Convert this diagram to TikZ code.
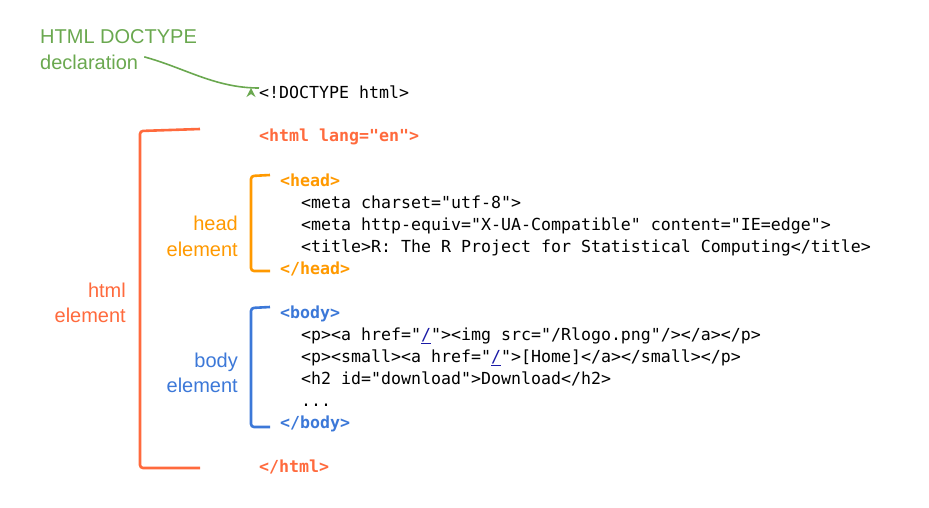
\documentclass[tikz,border=0pt]{standalone}
\usepackage{fontspec}
\setmainfont{Liberation Sans}
\setmonofont{DejaVu Sans Mono}
\usetikzlibrary{arrows.meta}
\definecolor{cred}{HTML}{FF6A3D}
\definecolor{corg}{HTML}{FF9900}
\definecolor{cblue}{HTML}{3C78D8}
\definecolor{cgreen}{HTML}{6AA84F}
\definecolor{clink}{HTML}{1A1AA6}
\newcommand{\lnk}{\textcolor{clink}{\underline{/}}}
\tikzset{
 code/.style={anchor=base west,inner sep=0pt,font=\fontsize{16.6}{18}\ttfamily},
 lab/.style={anchor=base east,inner sep=0pt,font=\fontsize{20}{22}\selectfont,align=right},
 brk/.style={line width=2.6pt,rounded corners=3pt},
}
\begin{document}
\begin{tikzpicture}[x=1pt,y=-1pt]
\useasboundingbox (0,0) rectangle (929,507);
\node[code] (dt) at (259,98) {<!DOCTYPE html>};
\node[code,text=cred] (ho) at (259,141) {\bfseries <html lang="en">};
\node[code,text=corg] (hd) at (280,186) {\bfseries <head>};
\node[code] (m1) at (301,208) {<meta charset="utf-8">};
\node[code] (m2) at (301,230) {<meta http-equiv="X-UA-Compatible" content="IE=edge">};
\node[code] (ti) at (301,252) {<title>R: The R Project for Statistical Computing</title>};
\node[code,text=corg] (hc) at (280,274) {\bfseries </head>};
\node[code,text=cblue] (bd) at (280,318) {\bfseries <body>};
\node[code] (p1) at (301,340) {<p><a href="\lnk"><img src="/Rlogo.png"/></a></p>};
\node[code] (p2) at (301,362) {<p><small><a href="\lnk">[Home]</a></small></p>};
\node[code] (h2) at (301,384) {<h2 id="download">Download</h2>};
\node[code] (dd) at (301,406) {...};
\node[code,text=cblue] (bc) at (280,428) {\bfseries </body>};
\node[code,text=cred] (hcl) at (259,472) {\bfseries </html>};

\node[anchor=base west,inner sep=0pt,font=\fontsize{20}{22}\selectfont,text=cgreen] (l1) at (40,43) {HTML DOCTYPE};
\node[anchor=base west,inner sep=0pt,font=\fontsize{20}{22}\selectfont,text=cgreen] (l2) at (40,69) {declaration};
\node[lab,text=cred] (lh) at (126,297) {html};
\node[lab,text=cred] (lh2) at (126,322) {element};
\node[lab,text=corg] (le) at (238,230) {head};
\node[lab,text=corg] (le2) at (238,256) {element};
\node[lab,text=cblue] (lb) at (238,367) {body};
\node[lab,text=cblue] (lb2) at (238,392) {element};

\draw[cgreen,line width=1.6pt,-{Stealth[length=9pt,width=9pt]}] (l2.east) ++(6,-5) .. controls (185,68) and (215,88) .. (dt.west |- 0,88) ++(-8,0);
\draw[brk,cred] (200,129) -- (140,131) -- (140,468) -- (200,468);
\draw[brk,corg] (270,175) -- (251,176) -- (251,271) -- (270,271);
\draw[brk,cblue] (270,307) -- (251,308) -- (251,427) -- (270,427);
\end{tikzpicture}
\end{document}
